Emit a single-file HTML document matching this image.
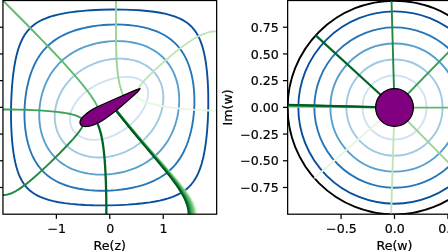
<!DOCTYPE html><html><head><meta charset="utf-8"><title>Conformal map</title>
<style>html,body{margin:0;padding:0;background:#fff;overflow:hidden}svg{display:block}text{font-family:"DejaVu Sans","Liberation Sans",sans-serif;font-size:12.60px;fill:#000;stroke:#000;stroke-width:0.22px}</style></head><body>
<svg width="448" height="252" viewBox="0 0 448 252">
<rect width="448" height="252" fill="#fff"/>
<defs><clipPath id="cz"><rect x="2.95" y="0.50" width="213.70" height="213.70"/></clipPath>
<clipPath id="cw"><rect x="287.65" y="0.50" width="213.70" height="213.70"/></clipPath></defs>
<g clip-path="url(#cz)" fill="none" stroke-width="1.89" stroke-linecap="butt" stroke-linejoin="round">
<path d="M127.96 76.89 L124.94 76.89 L121.91 77.09 L118.70 77.48 L115.32 78.09 L111.94 78.89 L108.55 79.87 L105.17 81.03 L101.79 82.37 L98.58 83.83 L95.38 85.49 L92.35 87.25 L89.50 89.10 L86.83 91.05 L84.30 93.10 L81.84 95.35 L79.70 97.55 L77.75 99.83 L75.96 102.20 L74.36 104.67 L73.00 107.17 L71.88 109.67 L71.01 112.16 L70.39 114.65 L70.02 117.14 L69.91 119.46 L70.04 121.77 L70.45 124.09 L71.08 126.23 L72.02 128.36 L73.18 130.32 L74.56 132.10 L76.13 133.71 L77.39 134.76 L78.64 135.65 L80.06 136.51 L81.48 137.24 L83.09 137.93 L84.69 138.48 L86.47 138.97 L88.25 139.35 L90.03 139.61 L91.99 139.78 L93.95 139.85 L95.91 139.81 L97.87 139.67 L100.01 139.42 L102.14 139.06 L104.28 138.60 L106.42 138.04 L108.55 137.38 L110.69 136.62 L112.65 135.84 L114.79 134.89 L116.92 133.84 L119.06 132.69 L121.02 131.54 L122.98 130.30 L124.94 128.96 L126.90 127.51 L128.74 126.05 L130.62 124.45 L132.37 122.84 L134.02 121.22 L135.69 119.46 L137.26 117.68 L138.83 115.75 L140.25 113.85 L141.54 111.98 L142.77 110.02 L143.88 108.06 L144.88 106.10 L145.76 104.14 L146.49 102.25 L147.08 100.40 L147.54 98.62 L147.88 96.84 L148.09 95.06 L148.16 93.46 L148.10 91.86 L147.89 90.25 L147.57 88.83 L147.10 87.40 L146.49 86.03 L145.77 84.81 L144.94 83.66 L143.98 82.60 L142.92 81.64 L141.68 80.71 L140.25 79.84 L138.83 79.14 L137.22 78.50 L135.62 78.00 L133.84 77.57 L131.88 77.23 L129.92 77.01 L127.96 76.89Z" stroke="#d0e1f2"/>
<path d="M122.80 58.73 L120.49 58.66 L117.99 58.68 L115.68 58.78 L113.18 58.98 L110.87 59.25 L108.38 59.63 L105.88 60.10 L103.57 60.62 L101.07 61.27 L98.76 61.96 L96.44 62.73 L94.13 63.60 L91.81 64.55 L89.68 65.52 L87.54 66.58 L85.40 67.74 L83.27 68.99 L81.31 70.24 L79.39 71.56 L77.57 72.91 L75.79 74.33 L74.01 75.86 L72.31 77.43 L70.62 79.12 L69.05 80.82 L67.59 82.51 L66.17 84.30 L64.81 86.16 L63.50 88.10 L62.28 90.08 L61.17 92.03 L60.16 93.99 L59.17 96.13 L58.28 98.27 L57.50 100.40 L56.82 102.54 L56.23 104.68 L55.71 106.99 L55.29 109.31 L55.01 111.45 L54.81 113.76 L54.73 115.90 L54.75 118.03 L54.87 120.17 L55.10 122.31 L55.40 124.27 L55.84 126.40 L56.35 128.36 L56.97 130.32 L57.70 132.28 L58.47 134.06 L59.40 135.94 L60.35 137.62 L61.48 139.40 L62.63 141.01 L63.91 142.61 L65.28 144.15 L66.70 145.58 L68.14 146.88 L69.73 148.19 L71.35 149.38 L73.11 150.54 L74.90 151.59 L76.85 152.61 L79.35 153.74 L81.84 154.68 L84.51 155.52 L87.18 156.19 L89.85 156.71 L92.70 157.11 L95.55 157.35 L98.58 157.46 L101.61 157.40 L104.64 157.20 L107.66 156.85 L110.69 156.35 L113.72 155.71 L116.75 154.92 L119.77 153.97 L122.62 152.94 L125.47 151.76 L128.32 150.42 L130.99 149.02 L133.66 147.46 L136.16 145.84 L138.65 144.06 L140.96 142.24 L143.28 140.24 L145.47 138.16 L147.55 135.98 L149.51 133.74 L151.38 131.39 L153.17 128.90 L154.78 126.40 L156.23 123.91 L157.62 121.24 L158.85 118.57 L159.99 115.72 L160.97 112.87 L161.77 110.02 L162.42 107.17 L162.90 104.32 L163.22 101.47 L163.37 98.62 L163.34 95.77 L163.15 93.10 L162.78 90.43 L162.27 87.94 L161.59 85.45 L160.79 83.13 L159.81 80.82 L158.62 78.50 L157.32 76.36 L155.92 74.38 L154.32 72.43 L152.54 70.55 L150.72 68.88 L148.71 67.28 L146.65 65.86 L144.35 64.48 L142.03 63.29 L139.54 62.21 L136.87 61.24 L134.20 60.45 L131.53 59.82 L128.68 59.31 L125.83 58.95 L122.80 58.73Z" stroke="#9dcae1"/>
<path d="M119.42 41.10 L116.21 41.08 L112.83 41.17 L109.44 41.39 L106.06 41.73 L102.68 42.20 L99.47 42.75 L96.27 43.42 L93.06 44.22 L90.03 45.08 L87.01 46.07 L83.98 47.19 L81.13 48.37 L78.28 49.68 L75.61 51.05 L72.94 52.56 L70.44 54.11 L68.11 55.71 L65.74 57.49 L63.50 59.32 L61.36 61.24 L59.37 63.19 L57.37 65.32 L55.48 67.54 L53.70 69.82 L52.09 72.09 L50.46 74.58 L48.99 77.08 L47.56 79.75 L46.27 82.42 L45.04 85.27 L43.94 88.12 L42.98 90.97 L42.03 94.17 L41.23 97.38 L40.57 100.58 L40.01 103.97 L39.61 107.35 L39.36 110.56 L39.24 113.94 L39.26 117.14 L39.44 120.53 L39.75 123.73 L40.21 126.94 L40.79 129.97 L41.52 132.99 L42.35 135.84 L43.33 138.69 L44.48 141.54 L45.72 144.21 L47.05 146.71 L48.54 149.19 L50.12 151.51 L51.88 153.83 L53.70 155.96 L55.66 158.01 L57.67 159.88 L59.79 161.67 L62.07 163.38 L64.57 165.03 L67.01 166.47 L69.55 167.80 L72.22 169.03 L75.07 170.17 L77.92 171.15 L81.48 172.18 L85.05 173.00 L88.79 173.67 L92.70 174.17 L96.62 174.47 L100.72 174.60 L104.64 174.54 L108.73 174.30 L112.83 173.87 L116.75 173.29 L120.84 172.49 L124.76 171.55 L128.50 170.46 L132.24 169.19 L135.80 167.79 L139.36 166.18 L142.57 164.54 L145.70 162.73 L148.62 160.85 L151.47 158.80 L154.14 156.66 L156.81 154.27 L159.31 151.79 L161.65 149.20 L163.82 146.53 L165.90 143.68 L167.86 140.68 L169.64 137.62 L171.29 134.42 L172.83 131.04 L174.18 127.65 L175.41 124.09 L176.54 120.17 L177.47 116.25 L178.20 112.34 L178.75 108.24 L179.09 104.14 L179.21 100.23 L179.13 96.31 L178.85 92.39 L178.36 88.65 L177.67 84.91 L176.79 81.35 L175.68 77.79 L174.38 74.40 L172.91 71.20 L171.29 68.17 L169.46 65.25 L167.50 62.54 L165.36 59.96 L163.05 57.52 L160.55 55.23 L157.88 53.10 L155.03 51.11 L152.01 49.29 L148.98 47.72 L145.59 46.22 L142.21 44.96 L138.65 43.86 L135.09 42.97 L131.35 42.24 L127.43 41.67 L123.51 41.30 L119.42 41.10Z" stroke="#57a0ce"/>
<path d="M116.57 24.54 L112.29 24.58 L108.02 24.75 L103.75 25.03 L99.65 25.41 L95.55 25.90 L91.46 26.52 L87.54 27.23 L83.62 28.07 L79.88 29.00 L76.32 30.02 L72.92 31.13 L69.55 32.38 L66.53 33.64 L63.50 35.05 L60.65 36.53 L57.80 38.19 L55.24 39.86 L52.78 41.64 L50.50 43.46 L48.18 45.52 L46.05 47.63 L44.09 49.77 L42.13 52.14 L40.35 54.53 L38.60 57.13 L36.99 59.80 L35.44 62.65 L34.05 65.50 L32.72 68.53 L31.47 71.73 L30.29 75.12 L29.26 78.50 L28.08 82.95 L27.08 87.40 L26.24 92.03 L25.54 96.84 L25.02 101.65 L24.67 106.46 L24.48 111.45 L24.47 116.25 L24.64 121.06 L24.96 125.69 L25.47 130.32 L26.14 134.77 L26.97 139.05 L27.95 143.14 L29.13 147.22 L30.43 150.98 L31.80 154.36 L33.30 157.57 L35.01 160.74 L36.78 163.62 L38.74 166.40 L40.81 168.97 L43.02 171.38 L45.33 173.60 L47.83 175.71 L50.51 177.69 L53.35 179.53 L56.38 181.25 L59.58 182.82 L62.79 184.18 L66.35 185.49 L69.91 186.60 L74.36 187.76 L79.17 188.76 L83.98 189.53 L89.14 190.13 L94.48 190.53 L99.83 190.72 L105.35 190.72 L110.87 190.52 L116.39 190.11 L121.73 189.52 L127.07 188.73 L132.24 187.76 L137.22 186.61 L141.86 185.32 L146.49 183.79 L150.72 182.14 L154.32 180.53 L157.88 178.71 L161.27 176.73 L164.36 174.67 L167.32 172.42 L170.10 170.04 L172.67 167.54 L175.16 164.80 L177.47 161.91 L179.61 158.88 L181.64 155.61 L183.49 152.23 L185.19 148.67 L186.83 144.75 L188.25 140.83 L189.59 136.56 L190.98 131.21 L192.18 125.51 L193.13 119.64 L193.81 113.76 L194.25 107.71 L194.42 101.65 L194.32 95.77 L193.96 89.90 L193.33 84.20 L192.47 78.86 L191.36 73.69 L190.03 68.88 L188.44 64.25 L186.66 59.98 L185.66 57.89 L184.61 55.88 L183.53 53.99 L182.38 52.14 L179.99 48.76 L177.47 45.71 L174.74 42.88 L171.73 40.21 L170.14 38.97 L168.43 37.72 L165.01 35.52 L161.27 33.49 L157.35 31.69 L153.07 30.06 L148.62 28.65 L143.81 27.42 L138.83 26.42 L133.49 25.61 L127.96 25.03 L122.27 24.67 L116.57 24.54Z" stroke="#2676b8"/>
<path d="M122.98 9.58 L112.12 9.52 L101.25 9.76 L90.75 10.28 L85.58 10.65 L80.77 11.07 L76.32 11.55 L72.05 12.08 L67.95 12.68 L64.03 13.34 L60.29 14.07 L56.91 14.84 L53.53 15.71 L50.50 16.61 L47.83 17.51 L45.16 18.53 L42.66 19.61 L40.35 20.75 L38.21 21.94 L36.07 23.28 L34.11 24.67 L32.28 26.14 L30.55 27.71 L28.95 29.35 L27.41 31.13 L25.92 33.08 L24.59 35.05 L23.31 37.19 L22.09 39.50 L21.00 41.82 L19.36 45.91 L17.91 50.31 L16.59 55.17 L15.40 60.51 L14.35 66.31 L13.43 72.62 L12.65 79.39 L12.02 86.51 L11.51 94.35 L11.18 102.54 L11.02 110.73 L11.04 118.93 L11.24 126.76 L11.63 134.42 L12.17 141.54 L12.89 148.31 L13.60 153.47 L14.42 158.28 L15.34 162.73 L16.42 167.01 L17.55 170.75 L18.84 174.31 L20.23 177.51 L21.79 180.54 L23.43 183.22 L25.24 185.71 L27.24 188.02 L29.45 190.16 L31.80 192.08 L34.29 193.79 L37.14 195.43 L40.17 196.90 L44.09 198.46 L48.54 199.89 L53.35 201.12 L58.69 202.21 L64.57 203.14 L70.80 203.90 L77.75 204.53 L85.05 204.98 L93.24 205.29 L101.79 205.41 L110.51 205.34 L119.24 205.08 L127.61 204.65 L135.62 204.04 L143.10 203.27 L149.87 202.36 L155.03 201.50 L159.66 200.57 L164.12 199.51 L168.21 198.34 L171.95 197.07 L175.51 195.64 L178.72 194.12 L181.65 192.47 L184.42 190.65 L186.91 188.70 L189.23 186.58 L191.36 184.27 L193.31 181.79 L195.10 179.11 L196.81 176.09 L198.35 172.88 L199.46 170.21 L200.56 167.19 L201.57 163.98 L202.50 160.60 L203.36 157.04 L204.13 153.30 L204.84 149.38 L205.51 145.10 L206.10 140.65 L206.64 135.84 L207.11 130.86 L207.50 125.69 L207.82 120.35 L208.06 114.83 L208.23 109.31 L208.30 103.79 L208.22 93.10 L208.06 87.94 L207.83 82.95 L207.50 77.97 L207.12 73.34 L206.66 68.88 L206.12 64.61 L205.51 60.51 L204.84 56.77 L204.11 53.21 L203.29 49.83 L202.40 46.62 L201.42 43.60 L200.42 40.92 L199.28 38.25 L198.33 36.29 L197.36 34.51 L196.29 32.73 L195.21 31.13 L194.03 29.55 L192.79 28.06 L191.51 26.68 L190.03 25.25 L188.59 24.01 L187.09 22.84 L185.44 21.69 L183.70 20.61 L181.92 19.62 L179.96 18.64 L178.01 17.76 L175.81 16.88 L173.55 16.08 L171.06 15.29 L165.90 13.93 L160.20 12.76 L153.96 11.77 L147.02 10.94 L139.54 10.30 L131.53 9.85 L122.98 9.58Z" stroke="#08509b"/>
<path d="M116.65 110.01 L125.89 121.32 L134.29 131.25 L144.83 143.31 L165.06 165.96 L172.42 174.31 L179.59 182.71 L182.52 186.29 L185.11 189.58 L188.02 193.51 L190.48 197.12 L192.47 200.39 L194.08 203.47 L195.29 206.34 L196.13 209.06 L196.41 210.36 L196.62 211.68 L196.74 213.01 L196.78 214.26" stroke="#b8e3b2" stroke-opacity="0.12"/>
<path d="M116.64 110.11 L125.41 120.88 L133.67 130.69 L144.00 142.59 L164.11 165.22 L171.50 173.66 L178.70 182.15 L181.67 185.82 L184.24 189.12 L187.20 193.13 L189.64 196.75 L191.65 200.11 L193.24 203.20 L194.44 206.07 L195.30 208.88 L195.60 210.27 L195.81 211.59 L195.93 212.92 L195.97 214.26" stroke="#acdea6" stroke-opacity="0.27"/>
<path d="M116.58 110.13 L124.87 120.37 L132.99 130.06 L143.24 141.92 L163.16 164.48 L170.59 173.00 L177.82 181.58 L180.78 185.26 L183.39 188.64 L186.38 192.74 L188.85 196.45 L190.85 199.82 L192.46 202.99 L193.67 205.96 L194.52 208.77 L195.03 211.48 L195.16 212.90 L195.20 214.23" stroke="#a0d99b" stroke-opacity="0.43"/>
<path d="M116.57 110.22 L125.63 121.44 L135.26 132.89 L144.58 143.66 L164.33 166.14 L171.76 174.78 L177.78 182.05 L182.60 188.23 L185.57 192.34 L188.07 196.13 L190.10 199.58 L191.69 202.77 L192.93 205.82 L193.78 208.72 L194.08 210.12 L194.29 211.53 L194.41 212.95 L194.45 214.28" stroke="#91d28e" stroke-opacity="0.60"/>
<path d="M116.51 110.23 L119.09 113.52 L125.04 120.85 L134.75 132.46 L143.93 143.13 L163.38 165.38 L170.85 174.11 L176.96 181.53 L181.81 187.80 L184.82 192.00 L187.30 195.80 L189.32 199.26 L190.94 202.53 L192.17 205.59 L192.66 207.11 L193.05 208.58 L193.55 211.38 L193.68 212.80 L193.72 214.22" stroke="#83cb82" stroke-opacity="0.77"/>
<path d="M116.41 110.17 L116.90 110.91 L123.82 119.50 L134.06 131.83 L143.22 142.52 L162.61 164.83 L170.06 173.57 L176.26 181.15 L181.14 187.51 L184.12 191.72 L186.59 195.53 L188.63 199.09 L190.24 202.36 L191.48 205.51 L192.34 208.50 L192.65 209.98 L192.85 211.39 L192.98 212.81 L193.02 214.24" stroke="#73c476" stroke-opacity="0.93"/>
<path d="M116.30 110.21 L118.03 112.46 L124.41 120.36 L134.01 131.94 L142.86 142.31 L161.61 163.99 L169.04 172.75 L175.34 180.49 L180.36 187.07 L183.34 191.29 L185.84 195.18 L187.87 198.74 L189.51 202.10 L190.75 205.25 L191.23 206.78 L191.64 208.33 L191.94 209.81 L192.16 211.31 L192.30 212.81 L192.33 214.24" stroke="#60ba6c" stroke-opacity="1.00"/>
<path d="M116.23 110.32 L125.38 121.70 L134.08 132.19 L142.50 142.10 L160.62 163.15 L167.97 171.86 L174.53 179.95 L177.25 183.47 L179.64 186.69 L182.66 190.99 L185.15 194.90 L187.21 198.54 L188.83 201.91 L190.09 205.14 L190.97 208.22 L191.27 209.71 L191.49 211.20 L191.63 212.71 L191.67 214.22" stroke="#4eb264" stroke-opacity="1.00"/>
<path d="M116.19 110.42 L125.63 122.14 L133.91 132.16 L142.08 141.81 L159.74 162.44 L167.08 171.17 L173.73 179.41 L176.50 183.01 L178.99 186.38 L181.98 190.69 L184.50 194.68 L186.55 198.33 L188.20 201.78 L189.44 205.02 L189.94 206.64 L190.33 208.19 L190.65 209.77 L190.86 211.27 L190.98 212.77 L191.02 214.29" stroke="#3ea75a" stroke-opacity="1.00"/>
<path d="M116.09 110.45 L125.81 122.51 L133.74 132.13 L141.66 141.53 L158.93 161.79 L166.24 170.53 L173.04 179.00 L175.86 182.68 L178.33 186.05 L181.31 190.38 L183.82 194.38 L185.90 198.11 L187.54 201.57 L188.81 204.90 L189.30 206.51 L189.69 208.07 L190.00 209.64 L190.21 211.14 L190.35 212.74 L190.39 214.25" stroke="#319a50" stroke-opacity="1.00"/>
<path d="M116.06 110.53 L125.83 122.67 L133.51 132.03 L141.24 141.24 L158.12 161.13 L165.41 169.89 L172.30 178.52 L175.16 182.27 L177.68 185.73 L180.70 190.14 L183.19 194.14 L185.26 197.88 L186.92 201.43 L188.18 204.76 L188.67 206.38 L189.08 208.02 L189.39 209.59 L189.60 211.09 L189.73 212.69 L189.77 214.20" stroke="#258d47" stroke-opacity="1.00"/>
<path d="M115.97 110.55 L125.90 122.91 L133.29 131.93 L140.82 140.95 L157.37 160.54 L164.64 169.32 L171.62 178.10 L174.52 181.93 L177.08 185.47 L180.08 189.88 L182.61 193.97 L184.66 197.72 L186.31 201.28 L187.59 204.70 L188.07 206.32 L188.48 207.96 L188.78 209.53 L189.00 211.12 L189.13 212.72 L189.17 214.23" stroke="#157f3b" stroke-opacity="1.00"/>
<path d="M134.18 94.87 L136.27 96.81 L138.42 98.39 L140.96 99.87 L143.94 101.25 L147.36 102.52 L151.20 103.69 L155.60 104.79 L160.57 105.83 L166.53 106.87 L173.14 107.82 L180.22 108.66 L187.49 109.36 L194.86 109.91 L202.15 110.29 L209.44 110.53 L216.66 110.60" stroke="#e7f6e3" stroke-width="1.89"/>
<path d="M139.20 88.93 L139.11 88.59 L139.13 88.15 L139.48 87.05 L140.26 85.65 L141.44 83.98 L143.08 81.99 L145.17 79.67 L147.69 77.03 L150.72 74.02 L154.44 70.44 L158.56 66.62 L162.86 62.75 L167.21 58.94 L171.41 55.36 L175.40 52.08 L179.24 49.03 L182.85 46.28 L188.07 42.56 L192.85 39.46 L197.33 36.88 L199.47 35.79 L201.48 34.85 L203.46 34.02 L205.46 33.29 L207.41 32.67 L209.31 32.18 L211.23 31.79 L213.08 31.52 L214.94 31.36 L216.72 31.31" stroke="#bee5b8" stroke-width="1.89"/>
<path d="M123.29 95.49 L122.18 92.78 L121.02 89.41 L120.07 86.07 L119.23 82.52 L118.52 78.76 L117.90 74.71 L117.39 70.37 L116.97 65.59 L116.65 60.79 L116.40 55.54 L116.08 43.26 L115.98 29.37 L116.00 0.43" stroke="#98d594" stroke-width="1.89"/>
<path d="M97.60 106.82 L95.78 103.35 L93.53 99.61 L90.87 95.61 L87.74 91.28 L84.15 86.62 L80.06 81.58 L75.39 76.08 L70.11 70.05 L64.26 63.57 L57.86 56.64 L50.90 49.25 L43.26 41.28 L26.39 24.03 L2.95 0.50" stroke="#60ba6c" stroke-width="1.89"/>
<path d="M81.75 118.37 L80.09 117.32 L78.01 116.32 L75.50 115.39 L72.68 114.57 L69.39 113.79 L65.72 113.10 L61.58 112.47 L56.90 111.88 L51.58 111.34 L45.72 110.85 L39.33 110.43 L32.57 110.08 L25.45 109.80 L18.06 109.60 L10.50 109.48 L2.93 109.44" stroke="#39a257" stroke-width="1.89"/>
<path d="M82.69 125.88 L81.80 127.63 L80.79 129.30 L79.36 131.34 L77.63 133.61 L75.54 136.15 L73.03 139.05 L66.90 145.75 L58.91 154.00 L50.17 162.63 L41.69 170.64 L34.06 177.47 L28.74 181.94 L23.97 185.67 L19.76 188.65 L17.81 189.90 L15.89 191.03 L14.09 192.00 L12.40 192.80 L10.67 193.51 L9.07 194.05 L7.52 194.47 L5.94 194.77 L4.44 194.95 L2.93 195.01" stroke="#208843" stroke-width="1.95"/>
<path d="M97.27 123.20 L98.43 125.89 L99.54 129.00 L100.53 132.32 L101.40 135.87 L102.20 139.80 L102.91 144.10 L103.55 148.78 L104.12 153.91 L104.64 159.67 L105.10 165.98 L105.48 172.82 L105.81 180.21 L106.06 188.22 L106.25 196.58 L106.40 214.21" stroke="#006428" stroke-width="2.30"/>
<path d="M115.93 110.63 L125.79 122.93 L133.00 131.75 L156.62 159.95 L163.93 168.81 L171.00 177.74 L173.89 181.58 L176.49 185.20 L179.48 189.63 L181.99 193.72 L184.07 197.56 L185.71 201.12 L186.98 204.54 L187.49 206.25 L187.89 207.89 L188.19 209.46 L188.41 211.05 L188.54 212.65 L188.58 214.25" stroke="#005a24" stroke-width="2.00"/>
<path d="M80.47 124.34 L80.14 123.61 L80.00 122.92 L79.98 122.18 L80.10 121.39 L80.40 120.44 L80.81 119.58 L81.34 118.70 L82.02 117.80 L82.81 116.89 L83.74 115.95 L86.14 113.88 L89.27 111.56 L92.62 109.39 L95.50 107.79 L98.59 106.27 L113.19 99.73 L126.77 93.94 L136.10 89.80 L138.16 89.05 L140.06 88.67 L139.34 89.78 L138.76 90.52 L137.87 91.49 L136.60 92.73 L133.28 95.78 L124.97 103.15 L121.02 106.56 L115.67 110.92 L109.56 115.60 L105.52 118.53 L102.09 120.76 L100.38 121.73 L98.69 122.61 L96.76 123.51 L94.88 124.30 L92.83 125.06 L91.13 125.61 L89.52 126.04 L88.01 126.34 L86.80 126.49 L85.49 126.55 L84.30 126.46 L83.23 126.25 L82.43 125.97 L81.62 125.53 L80.96 124.98 L80.47 124.34Z" fill="#800080" stroke="#000" stroke-width="1.26"/>
</g>
<g clip-path="url(#cw)" fill="none" stroke-width="1.89">
<circle cx="394.50" cy="107.55" r="32.05" stroke="#d0e1f2"/>
<circle cx="394.50" cy="107.55" r="48.08" stroke="#9dcae1"/>
<circle cx="394.50" cy="107.55" r="64.11" stroke="#57a0ce"/>
<circle cx="394.50" cy="107.55" r="80.14" stroke="#2676b8"/>
<circle cx="394.50" cy="107.55" r="96.16" stroke="#08509b"/>
<circle cx="394.50" cy="107.55" r="106.85" stroke="#000"/>
<line x1="375.60" y1="107.48" x2="287.65" y2="107.18" stroke="#b8e3b2" stroke-opacity="0.12"/>
<line x1="375.60" y1="107.43" x2="287.65" y2="106.87" stroke="#a7dba0" stroke-opacity="0.35"/>
<line x1="375.60" y1="107.38" x2="287.65" y2="106.57" stroke="#91d28e" stroke-opacity="0.60"/>
<line x1="375.60" y1="107.32" x2="287.66" y2="106.27" stroke="#7ac77b" stroke-opacity="0.85"/>
<line x1="375.60" y1="107.27" x2="287.66" y2="105.96" stroke="#60ba6c" stroke-opacity="1.00"/>
<line x1="375.60" y1="107.22" x2="287.67" y2="105.66" stroke="#45ad5f" stroke-opacity="1.00"/>
<line x1="375.61" y1="107.16" x2="287.67" y2="105.36" stroke="#319a50" stroke-opacity="1.00"/>
<line x1="375.61" y1="107.11" x2="287.68" y2="105.06" stroke="#1d8640" stroke-opacity="1.00"/>
<line x1="380.32" y1="120.05" x2="314.35" y2="178.21" stroke="#e7f6e3" stroke-width="1.89"/>
<line x1="393.91" y1="126.44" x2="391.14" y2="214.35" stroke="#bee5b8" stroke-width="1.89"/>
<line x1="407.72" y1="121.05" x2="469.26" y2="183.89" stroke="#98d594" stroke-width="1.89"/>
<line x1="413.40" y1="107.58" x2="501.35" y2="107.74" stroke="#60ba6c" stroke-width="1.89"/>
<line x1="407.68" y1="94.00" x2="468.99" y2="30.95" stroke="#39a257" stroke-width="1.89"/>
<line x1="393.97" y1="88.66" x2="391.52" y2="0.74" stroke="#208843" stroke-width="1.89"/>
<line x1="380.57" y1="94.78" x2="315.72" y2="35.36" stroke="#006428" stroke-width="2.20"/>
<line x1="375.61" y1="107.06" x2="287.69" y2="104.75" stroke="#005a24" stroke-width="2.00"/>
<circle cx="394.50" cy="107.55" r="18.90" fill="#800080" stroke="#000" stroke-width="1.26"/>
</g>
<g fill="none" stroke="#000" stroke-width="1.25">
<rect x="2.95" y="0.50" width="213.70" height="213.70"/>
<rect x="287.65" y="0.50" width="213.70" height="213.70"/>
<line x1="56.38" y1="214.20" x2="56.38" y2="218.90"/>
<line x1="109.80" y1="214.20" x2="109.80" y2="218.90"/>
<line x1="163.22" y1="214.20" x2="163.22" y2="218.90"/>
<line x1="2.95" y1="187.49" x2="-1.75" y2="187.49"/>
<line x1="2.95" y1="160.77" x2="-1.75" y2="160.77"/>
<line x1="2.95" y1="134.06" x2="-1.75" y2="134.06"/>
<line x1="2.95" y1="107.35" x2="-1.75" y2="107.35"/>
<line x1="2.95" y1="80.64" x2="-1.75" y2="80.64"/>
<line x1="2.95" y1="53.92" x2="-1.75" y2="53.92"/>
<line x1="2.95" y1="27.21" x2="-1.75" y2="27.21"/>
<line x1="341.07" y1="214.20" x2="341.07" y2="218.90"/>
<line x1="394.50" y1="214.20" x2="394.50" y2="218.90"/>
<line x1="447.93" y1="214.20" x2="447.93" y2="218.90"/>
<line x1="287.65" y1="187.49" x2="282.95" y2="187.49"/>
<line x1="287.65" y1="160.77" x2="282.95" y2="160.77"/>
<line x1="287.65" y1="134.06" x2="282.95" y2="134.06"/>
<line x1="287.65" y1="107.35" x2="282.95" y2="107.35"/>
<line x1="287.65" y1="80.64" x2="282.95" y2="80.64"/>
<line x1="287.65" y1="53.92" x2="282.95" y2="53.92"/>
<line x1="287.65" y1="27.21" x2="282.95" y2="27.21"/>
</g>
<text x="56.78" y="233.20" text-anchor="middle">−1</text>
<text x="110.20" y="233.20" text-anchor="middle">0</text>
<text x="163.62" y="233.20" text-anchor="middle">1</text>
<text x="109.80" y="250.00" text-anchor="middle">Re(z)</text>
<text x="341.38" y="233.20" text-anchor="middle">−0.5</text>
<text x="394.80" y="233.20" text-anchor="middle">0.0</text>
<text x="448.23" y="233.20" text-anchor="middle">0.5</text>
<text x="394.50" y="250.00" text-anchor="middle">Re(w)</text>
<text x="278.75" y="192.19" text-anchor="end">−0.75</text>
<text x="278.75" y="165.47" text-anchor="end">−0.50</text>
<text x="278.75" y="138.76" text-anchor="end">−0.25</text>
<text x="278.75" y="112.05" text-anchor="end">0.00</text>
<text x="278.75" y="85.34" text-anchor="end">0.25</text>
<text x="278.75" y="58.62" text-anchor="end">0.50</text>
<text x="278.75" y="31.91" text-anchor="end">0.75</text>
<text transform="translate(231.80 107.35) rotate(-90)" text-anchor="middle">Im(w)</text>
</svg></body></html>
